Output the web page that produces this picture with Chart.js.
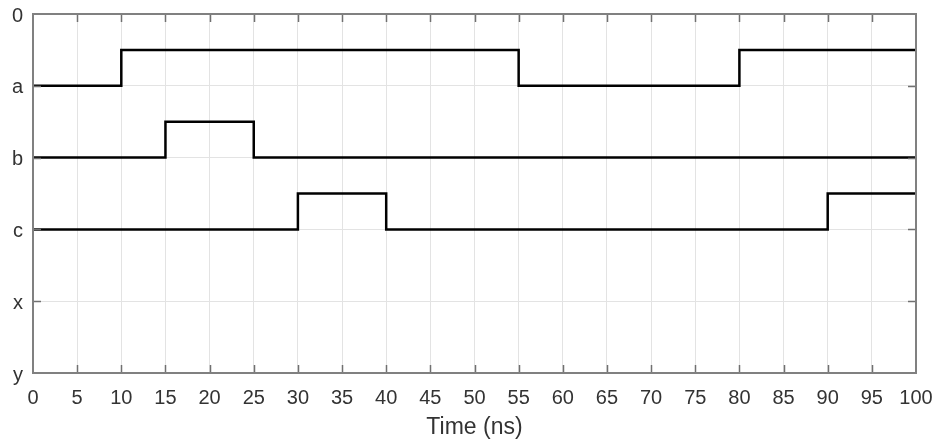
<!DOCTYPE html>
<html>
<head>
<meta charset="utf-8">
<script src="https://cdn.jsdelivr.net/npm/chart.js@4/dist/chart.umd.min.js"></script>
<style>
  html, body { margin: 0; padding: 0; background: #ffffff; }
  #wrap { width: 938px; height: 446px; position: relative; }
</style>
</head>
<body>
<div id="wrap"><canvas id="c" width="938" height="446"></canvas></div>
<script>
// ---- data ----
const yTickLabels = ['0', 'a', 'b', 'c', 'x', 'y'];
const xTitle = 'Time (ns)';

const aTimes  = [0, 10, 55, 80, 100];
const aLevels = [1, 0.5, 1, 0.5, 0.5];

const bTimes  = [0, 15, 25, 100];
const bLevels = [2, 1.5, 2, 2];

const cTimes  = [0, 30, 40, 90, 100];
const cLevels = [3, 2.5, 3, 2.5, 2.5];

function pts(t, v) { return t.map((x, i) => ({ x: x, y: v[i] })); }

const FONT = "'Liberation Sans', Arial, Helvetica, sans-serif";
const TXT = '#333333';

const boxPlugin = {
  id: 'boxTicks',
  afterDraw(chart) {
    const { ctx, chartArea: { left, right, top, bottom }, scales: { x, y } } = chart;
    ctx.save();
    ctx.strokeStyle = '#707070';
    ctx.lineWidth = 1.5;
    const L = 8;
    ctx.beginPath();
    x.ticks.forEach(t => {
      const px = Math.round(x.getPixelForValue(t.value)) + 0.5;
      if (px <= left + 1 || px >= right - 1) return;
      ctx.moveTo(px, bottom); ctx.lineTo(px, bottom - L);
      ctx.moveTo(px, top); ctx.lineTo(px, top + L);
    });
    y.ticks.forEach(t => {
      const py = Math.round(y.getPixelForValue(t.value)) + 0.5;
      if (py <= top + 1 || py >= bottom - 1) return;
      ctx.moveTo(left, py); ctx.lineTo(left + L, py);
      ctx.moveTo(right, py); ctx.lineTo(right - L, py);
    });
    ctx.stroke();
    ctx.strokeStyle = '#808080';
    ctx.lineWidth = 2;
    ctx.strokeRect(left, top, right - left, bottom - top);
    ctx.restore();
  }
};

const ds = (t, v) => ({
  data: pts(t, v),
  borderColor: '#000000',
  borderWidth: 2.5,
  pointRadius: 0,
  stepped: 'before',
  fill: false
});

function noPad(s) { s.paddingLeft = 0; s.paddingRight = 0; s.paddingTop = 0; s.paddingBottom = 0; }

new Chart(document.getElementById('c'), {
  type: 'line',
  data: { datasets: [ds(aTimes, aLevels), ds(bTimes, bLevels), ds(cTimes, cLevels)] },
  options: {
    responsive: false,
    animation: false,
    layout: { padding: { left: 0, right: 22, top: 14, bottom: 0 } },
    plugins: { legend: { display: false }, tooltip: { enabled: false } },
    scales: {
      x: {
        type: 'linear', min: 0, max: 100,
        ticks: { stepSize: 5, color: TXT, font: { family: FONT, size: 20 }, padding: 13, maxRotation: 0, autoSkip: false },
        grid: { color: '#e3e3e3', lineWidth: 1, drawTicks: false },
        border: { display: false },
        title: { display: true, text: xTitle, color: TXT, font: { family: FONT, size: 23 }, padding: { top: 0, bottom: 5 } },
        afterFit(s) { s.height = 73; noPad(s); }
      },
      y: {
        type: 'linear', min: 0, max: 5, reverse: true,
        ticks: { stepSize: 1, color: TXT, font: { family: FONT, size: 20 }, padding: 10, labelOffset: 2,
                 callback: (v) => yTickLabels[v] },
        grid: { color: '#e3e3e3', lineWidth: 1, drawTicks: false },
        border: { display: false },
        afterFit(s) { s.width = 33; noPad(s); }
      }
    }
  },
  plugins: [boxPlugin]
});
</script>
</body>
</html>
